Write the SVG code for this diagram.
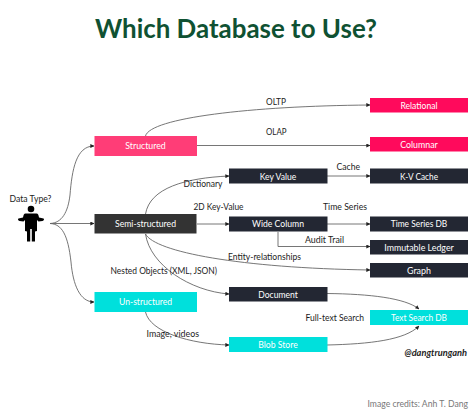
<svg xmlns="http://www.w3.org/2000/svg" width="474" height="420" viewBox="0 0 474 420">
<style>
text{font-family:"Lato","Open Sans",sans-serif;font-size:9.500px;fill:#1c1c1c}
.n text{fill:#fff;text-anchor:middle}
.c path{fill:none;stroke:#666;stroke-width:.9;marker-end:url(#a)}
.pink{fill:#ff3d77}.red{fill:#ff0a5c}.dark{fill:#333}.navy{fill:#232733}.cyan{fill:#00e0dc}
</style>
<defs><marker id="a" viewBox="0 0 6 6" refX="5.500" refY="3" markerWidth="4" markerHeight="4" markerUnits="userSpaceOnUse" orient="auto"><path d="M0 0L6 3L0 6z" fill="#222" stroke="none"/></marker></defs>
<rect width="474" height="420" fill="#fff"/>
<text x="95" y="38" textLength="282" lengthAdjust="spacingAndGlyphs" style="font-size:26px;font-weight:700;fill:#0f5132">Which Database to Use?</text>
<g class="c" id="connectors">
<path d="M50 223.500C62 223 68 212 70 195C72 170 76 146 94 146"/>
<path d="M50 223.500H94"/>
<path d="M50 223.500C62 224 68 235 71 262C73 285 80 302 94 302"/>
<path d="M145.500 136C150 118 250 106 370 105"/>
<path d="M197 145.500H370"/>
<path d="M145.500 214C150 188 185 178 229 176"/>
<path d="M197 224H229"/>
<path d="M145.500 234C155 252 240 268 370 270"/>
<path d="M145.500 234C150 265 190 291 229 294"/>
<path d="M145.500 312C150 332 190 344 229 345"/>
<path d="M327 176H370"/>
<path d="M327 224H370"/>
<path d="M278 232V246.500H370"/>
<path d="M327 293.500C370 294 405 298 419 309"/>
<path d="M327 345C370 344 405 340 419 326"/>
</g>
<g class="n" id="structured"><rect class="pink" x="94.500" y="136" width="102.500" height="20"/><text x="145.500" y="149.300" textLength="40.500" lengthAdjust="spacingAndGlyphs">Structured</text></g>
<g class="n" id="semi"><rect class="dark" x="94.500" y="214" width="102" height="19.500"/><text x="145.500" y="227.300" textLength="61" lengthAdjust="spacingAndGlyphs">Semi-structured</text></g>
<g class="n" id="unstructured"><rect class="cyan" x="94.500" y="292" width="102.500" height="20"/><text x="145.500" y="305.300" textLength="53" lengthAdjust="spacingAndGlyphs">Un-structured</text></g>
<g class="n" id="keyvalue"><rect class="navy" x="229" y="168.500" width="98.500" height="15"/><text x="278" y="179.500" textLength="36.500" lengthAdjust="spacingAndGlyphs">Key Value</text></g>
<g class="n" id="widecolumn"><rect class="navy" x="229" y="216.500" width="98.500" height="15"/><text x="278" y="227.300" textLength="52" lengthAdjust="spacingAndGlyphs">Wide Column</text></g>
<g class="n" id="document"><rect class="navy" x="229" y="287" width="98.500" height="14.500"/><text x="278" y="297.500" textLength="39.500" lengthAdjust="spacingAndGlyphs">Document</text></g>
<g class="n" id="blob"><rect class="cyan" x="229" y="337" width="98.500" height="15"/><text x="278" y="348" textLength="39.500" lengthAdjust="spacingAndGlyphs">Blob Store</text></g>
<g class="n" id="relational"><rect class="red" x="370" y="98" width="98" height="14.500"/><text x="419" y="108.500" textLength="37" lengthAdjust="spacingAndGlyphs">Relational</text></g>
<g class="n" id="columnar"><rect class="red" x="370" y="137" width="98" height="14.500"/><text x="419" y="147.500" textLength="37.500" lengthAdjust="spacingAndGlyphs">Columnar</text></g>
<g class="n" id="kvcache"><rect class="navy" x="370" y="168.500" width="98" height="15"/><text x="419" y="179.500" textLength="38" lengthAdjust="spacingAndGlyphs">K-V Cache</text></g>
<g class="n" id="timeseries"><rect class="navy" x="370" y="216.500" width="98" height="15"/><text x="419" y="227.300" textLength="56.500" lengthAdjust="spacingAndGlyphs">Time Series DB</text></g>
<g class="n" id="ledger"><rect class="navy" x="370" y="240" width="98" height="14.500"/><text x="419" y="250.500" textLength="69.500" lengthAdjust="spacingAndGlyphs">Immutable Ledger</text></g>
<g class="n" id="graph"><rect class="navy" x="370" y="263" width="98" height="14.500"/><text x="419" y="273.500" textLength="24" lengthAdjust="spacingAndGlyphs">Graph</text></g>
<g class="n" id="textsearch"><rect class="cyan" x="370" y="310" width="98" height="15"/><text x="419" y="321" textLength="56" lengthAdjust="spacingAndGlyphs">Text Search DB</text></g>
<g id="person"><circle cx="31" cy="209" r="3.300" fill="#000"/><path d="M25.500 213.500H36.500C38 213.500 38.500 215 39 217.500L43.500 218.500C44.500 219 44 220.800 42.500 221L38.500 221.500L37 220V231L35 231.500V241.500H31.800V229H30.200V241.500H27V231.500L25 231V220L23.500 221.500L19.500 221C18 220.800 17.500 219 18.500 218.500L23 217.500C23.500 215 24 213.500 25.500 213.500z" fill="#000"/></g>
<text x="9.500" y="202" textLength="42" lengthAdjust="spacingAndGlyphs">Data Type?</text>
<text x="266" y="105" textLength="20" lengthAdjust="spacingAndGlyphs">OLTP</text>
<text x="266" y="135" textLength="20.500" lengthAdjust="spacingAndGlyphs">OLAP</text>
<text x="183.500" y="187" textLength="39" lengthAdjust="spacingAndGlyphs">Dictionary</text>
<text x="193.500" y="210" textLength="50" lengthAdjust="spacingAndGlyphs">2D Key-Value</text>
<text x="336.500" y="170" textLength="23.500" lengthAdjust="spacingAndGlyphs">Cache</text>
<text x="323" y="209.500" textLength="44" lengthAdjust="spacingAndGlyphs">Time Series</text>
<text x="305" y="243" textLength="39" lengthAdjust="spacingAndGlyphs">Audit Trail</text>
<text x="228" y="260" textLength="73" lengthAdjust="spacingAndGlyphs">Entity-relationships</text>
<text x="110.500" y="274" textLength="106.500" lengthAdjust="spacingAndGlyphs">Nested Objects (XML, JSON)</text>
<text x="146.500" y="337" textLength="52.500" lengthAdjust="spacingAndGlyphs">Image, videos</text>
<text x="305.500" y="321" textLength="58.500" lengthAdjust="spacingAndGlyphs">Full-text Search</text>
<text x="404.500" y="356" textLength="62.500" lengthAdjust="spacingAndGlyphs" style="font-style:italic;font-weight:700">@dangtrunganh</text>
<text x="367.500" y="407" textLength="100.500" lengthAdjust="spacingAndGlyphs" style="font-size:8.700px;fill:#777">Image credits: Anh T. Dang</text>
</svg>
